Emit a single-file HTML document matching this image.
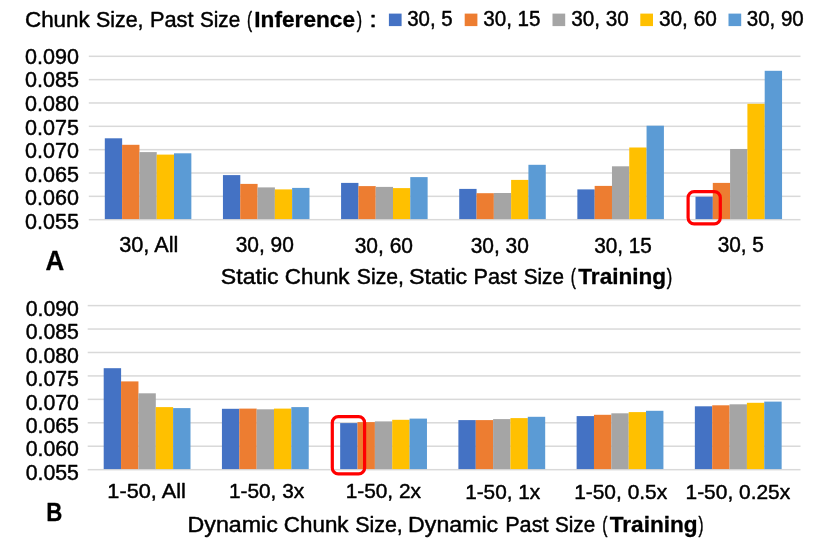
<!DOCTYPE html>
<html lang="en"><head><meta charset="utf-8"><title>Chunk Size, Past Size</title>
<style>html,body{margin:0;padding:0;background:#fff;}body{width:830px;height:545px;overflow:hidden;}svg{display:block;}text{font-family:"Liberation Sans",sans-serif;fill:#000;stroke:#000;stroke-width:0.45px;stroke-linejoin:round;}.b{font-weight:bold;stroke-width:0.3px;}</style></head><body>
<svg width="830" height="545" viewBox="0 0 830 545">
<rect x="0" y="0" width="830" height="545" fill="#fff"/>
<rect x="88.80" y="55.55" width="711.70" height="1.5" fill="#D9D9D9"/>
<rect x="88.80" y="78.89" width="711.70" height="1.5" fill="#D9D9D9"/>
<rect x="88.80" y="102.23" width="711.70" height="1.5" fill="#D9D9D9"/>
<rect x="88.80" y="125.57" width="711.70" height="1.5" fill="#D9D9D9"/>
<rect x="88.80" y="148.91" width="711.70" height="1.5" fill="#D9D9D9"/>
<rect x="88.80" y="172.25" width="711.70" height="1.5" fill="#D9D9D9"/>
<rect x="88.80" y="195.59" width="711.70" height="1.5" fill="#D9D9D9"/>
<rect x="88.80" y="218.93" width="711.70" height="1.5" fill="#D9D9D9"/>
<rect x="104.80" y="138.30" width="17.35" height="80.78" fill="#4472C4"/>
<rect x="122.10" y="144.80" width="17.35" height="74.28" fill="#ED7D31"/>
<rect x="139.40" y="152.10" width="17.35" height="66.98" fill="#A5A5A5"/>
<rect x="156.70" y="154.60" width="17.35" height="64.48" fill="#FFC000"/>
<rect x="174.00" y="153.30" width="17.35" height="65.78" fill="#5B9BD5"/>
<rect x="222.94" y="175.10" width="17.35" height="43.98" fill="#4472C4"/>
<rect x="240.24" y="183.90" width="17.35" height="35.18" fill="#ED7D31"/>
<rect x="257.54" y="187.40" width="17.35" height="31.68" fill="#A5A5A5"/>
<rect x="274.84" y="189.40" width="17.35" height="29.68" fill="#FFC000"/>
<rect x="292.14" y="187.90" width="17.35" height="31.18" fill="#5B9BD5"/>
<rect x="341.08" y="182.90" width="17.35" height="36.18" fill="#4472C4"/>
<rect x="358.38" y="186.10" width="17.35" height="32.98" fill="#ED7D31"/>
<rect x="375.68" y="186.90" width="17.35" height="32.18" fill="#A5A5A5"/>
<rect x="392.98" y="188.10" width="17.35" height="30.98" fill="#FFC000"/>
<rect x="410.28" y="177.10" width="17.35" height="41.98" fill="#5B9BD5"/>
<rect x="459.22" y="188.90" width="17.35" height="30.18" fill="#4472C4"/>
<rect x="476.52" y="193.20" width="17.35" height="25.88" fill="#ED7D31"/>
<rect x="493.82" y="193.00" width="17.35" height="26.08" fill="#A5A5A5"/>
<rect x="511.12" y="179.90" width="17.35" height="39.18" fill="#FFC000"/>
<rect x="528.42" y="164.80" width="17.35" height="54.28" fill="#5B9BD5"/>
<rect x="577.36" y="189.40" width="17.35" height="29.68" fill="#4472C4"/>
<rect x="594.66" y="185.90" width="17.35" height="33.18" fill="#ED7D31"/>
<rect x="611.96" y="166.30" width="17.35" height="52.78" fill="#A5A5A5"/>
<rect x="629.26" y="147.50" width="17.35" height="71.58" fill="#FFC000"/>
<rect x="646.56" y="125.70" width="17.35" height="93.38" fill="#5B9BD5"/>
<rect x="695.50" y="196.70" width="17.35" height="22.38" fill="#4472C4"/>
<rect x="712.80" y="182.90" width="17.35" height="36.18" fill="#ED7D31"/>
<rect x="730.10" y="149.00" width="17.35" height="70.08" fill="#A5A5A5"/>
<rect x="747.40" y="103.80" width="17.35" height="115.28" fill="#FFC000"/>
<rect x="764.70" y="70.80" width="17.35" height="148.28" fill="#5B9BD5"/>
<text x="25.09" y="63.95" font-size="21.5" textLength="53.84" lengthAdjust="spacingAndGlyphs">0.090</text>
<text x="25.08" y="87.49" font-size="21.5" textLength="53.90" lengthAdjust="spacingAndGlyphs">0.085</text>
<text x="25.09" y="111.03" font-size="21.5" textLength="53.84" lengthAdjust="spacingAndGlyphs">0.080</text>
<text x="25.08" y="134.57" font-size="21.5" textLength="53.90" lengthAdjust="spacingAndGlyphs">0.075</text>
<text x="25.09" y="158.11" font-size="21.5" textLength="53.84" lengthAdjust="spacingAndGlyphs">0.070</text>
<text x="25.08" y="181.65" font-size="21.5" textLength="53.90" lengthAdjust="spacingAndGlyphs">0.065</text>
<text x="25.09" y="205.19" font-size="21.5" textLength="53.84" lengthAdjust="spacingAndGlyphs">0.060</text>
<text x="25.08" y="228.73" font-size="21.5" textLength="53.90" lengthAdjust="spacingAndGlyphs">0.055</text>
<rect x="87.70" y="304.85" width="712.80" height="1.5" fill="#D9D9D9"/>
<rect x="87.70" y="328.29" width="712.80" height="1.5" fill="#D9D9D9"/>
<rect x="87.70" y="351.73" width="712.80" height="1.5" fill="#D9D9D9"/>
<rect x="87.70" y="375.17" width="712.80" height="1.5" fill="#D9D9D9"/>
<rect x="87.70" y="398.61" width="712.80" height="1.5" fill="#D9D9D9"/>
<rect x="87.70" y="422.05" width="712.80" height="1.5" fill="#D9D9D9"/>
<rect x="87.70" y="445.49" width="712.80" height="1.5" fill="#D9D9D9"/>
<rect x="87.70" y="468.93" width="712.80" height="1.5" fill="#D9D9D9"/>
<rect x="103.70" y="368.20" width="17.40" height="100.88" fill="#4472C4"/>
<rect x="121.05" y="381.40" width="17.40" height="87.68" fill="#ED7D31"/>
<rect x="138.40" y="393.30" width="17.40" height="75.78" fill="#A5A5A5"/>
<rect x="155.75" y="407.10" width="17.40" height="61.98" fill="#FFC000"/>
<rect x="173.10" y="408.10" width="17.40" height="60.98" fill="#5B9BD5"/>
<rect x="221.93" y="408.80" width="17.40" height="60.28" fill="#4472C4"/>
<rect x="239.28" y="408.60" width="17.40" height="60.48" fill="#ED7D31"/>
<rect x="256.63" y="409.30" width="17.40" height="59.78" fill="#A5A5A5"/>
<rect x="273.98" y="408.60" width="17.40" height="60.48" fill="#FFC000"/>
<rect x="291.33" y="407.10" width="17.40" height="61.98" fill="#5B9BD5"/>
<rect x="340.16" y="423.10" width="17.40" height="45.98" fill="#4472C4"/>
<rect x="357.51" y="422.10" width="17.40" height="46.98" fill="#ED7D31"/>
<rect x="374.86" y="421.40" width="17.40" height="47.68" fill="#A5A5A5"/>
<rect x="392.21" y="419.80" width="17.40" height="49.28" fill="#FFC000"/>
<rect x="409.56" y="418.60" width="17.40" height="50.48" fill="#5B9BD5"/>
<rect x="458.39" y="420.10" width="17.40" height="48.98" fill="#4472C4"/>
<rect x="475.74" y="420.10" width="17.40" height="48.98" fill="#ED7D31"/>
<rect x="493.09" y="419.10" width="17.40" height="49.98" fill="#A5A5A5"/>
<rect x="510.44" y="418.10" width="17.40" height="50.98" fill="#FFC000"/>
<rect x="527.79" y="416.80" width="17.40" height="52.28" fill="#5B9BD5"/>
<rect x="576.62" y="416.10" width="17.40" height="52.98" fill="#4472C4"/>
<rect x="593.97" y="414.80" width="17.40" height="54.28" fill="#ED7D31"/>
<rect x="611.32" y="413.30" width="17.40" height="55.78" fill="#A5A5A5"/>
<rect x="628.67" y="412.10" width="17.40" height="56.98" fill="#FFC000"/>
<rect x="646.02" y="410.80" width="17.40" height="58.28" fill="#5B9BD5"/>
<rect x="694.85" y="406.30" width="17.40" height="62.78" fill="#4472C4"/>
<rect x="712.20" y="405.30" width="17.40" height="63.78" fill="#ED7D31"/>
<rect x="729.55" y="404.30" width="17.40" height="64.78" fill="#A5A5A5"/>
<rect x="746.90" y="402.80" width="17.40" height="66.28" fill="#FFC000"/>
<rect x="764.25" y="401.60" width="17.40" height="67.48" fill="#5B9BD5"/>
<text x="25.70" y="315.65" font-size="21.5" textLength="53.22" lengthAdjust="spacingAndGlyphs">0.090</text>
<text x="25.69" y="339.12" font-size="21.5" textLength="53.28" lengthAdjust="spacingAndGlyphs">0.085</text>
<text x="25.70" y="362.59" font-size="21.5" textLength="53.22" lengthAdjust="spacingAndGlyphs">0.080</text>
<text x="25.69" y="386.06" font-size="21.5" textLength="53.28" lengthAdjust="spacingAndGlyphs">0.075</text>
<text x="25.70" y="409.53" font-size="21.5" textLength="53.22" lengthAdjust="spacingAndGlyphs">0.070</text>
<text x="25.69" y="433.00" font-size="21.5" textLength="53.28" lengthAdjust="spacingAndGlyphs">0.065</text>
<text x="25.70" y="456.47" font-size="21.5" textLength="53.22" lengthAdjust="spacingAndGlyphs">0.060</text>
<text x="25.69" y="479.94" font-size="21.5" textLength="53.28" lengthAdjust="spacingAndGlyphs">0.055</text>
<rect x="688.1" y="191.6" width="32.2" height="32.2" rx="6" ry="6" fill="none" stroke="#FF0000" stroke-width="3.2"/>
<rect x="332.3" y="416.7" width="32.3" height="57.2" rx="6" ry="6" fill="none" stroke="#FF0000" stroke-width="3.2"/>
<text x="24.98" y="26.60" font-size="21.5" textLength="64.76" lengthAdjust="spacingAndGlyphs">Chunk</text>
<text x="95.94" y="26.60" font-size="21.5" textLength="47.56" lengthAdjust="spacingAndGlyphs">Size,</text>
<text x="149.94" y="26.60" font-size="21.5" textLength="43.59" lengthAdjust="spacingAndGlyphs">Past</text>
<text x="199.97" y="26.60" font-size="21.5" textLength="40.22" lengthAdjust="spacingAndGlyphs">Size</text>
<text x="246.88" y="26.60" font-size="21.5" textLength="5.09" lengthAdjust="spacingAndGlyphs">(</text>
<text x="254.33" y="26.60" font-size="21.5" class="b" textLength="100.69" lengthAdjust="spacingAndGlyphs">Inference</text>
<text x="356.83" y="26.60" font-size="21.5" textLength="5.34" lengthAdjust="spacingAndGlyphs">)</text>
<text x="369.21" y="26.60" font-size="21.5" textLength="7.67" lengthAdjust="spacingAndGlyphs">:</text>
<rect x="388.90" y="13.6" width="12.7" height="12.5" fill="#4472C4"/>
<text x="407.15" y="26.20" font-size="21.2" textLength="45.49" lengthAdjust="spacingAndGlyphs">30, 5</text>
<rect x="464.70" y="13.6" width="12.7" height="12.5" fill="#ED7D31"/>
<text x="483.24" y="26.20" font-size="21.2" textLength="57.30" lengthAdjust="spacingAndGlyphs">30, 15</text>
<rect x="552.50" y="13.6" width="12.7" height="12.5" fill="#A5A5A5"/>
<text x="571.24" y="26.20" font-size="21.2" textLength="57.55" lengthAdjust="spacingAndGlyphs">30, 30</text>
<rect x="640.30" y="13.6" width="12.7" height="12.5" fill="#FFC000"/>
<text x="658.93" y="26.20" font-size="21.2" textLength="57.86" lengthAdjust="spacingAndGlyphs">30, 60</text>
<rect x="728.50" y="13.6" width="12.7" height="12.5" fill="#5B9BD5"/>
<text x="746.75" y="26.20" font-size="21.2" textLength="57.04" lengthAdjust="spacingAndGlyphs">30, 90</text>
<text x="119.20" y="251.65" font-size="21.5" textLength="59.13" lengthAdjust="spacingAndGlyphs">30, All</text>
<text x="235.73" y="251.65" font-size="21.5" textLength="58.17" lengthAdjust="spacingAndGlyphs">30, 90</text>
<text x="354.73" y="253.15" font-size="21.5" textLength="58.27" lengthAdjust="spacingAndGlyphs">30, 60</text>
<text x="470.73" y="253.40" font-size="21.5" textLength="58.17" lengthAdjust="spacingAndGlyphs">30, 30</text>
<text x="594.24" y="253.25" font-size="21.5" textLength="57.61" lengthAdjust="spacingAndGlyphs">30, 15</text>
<text x="717.63" y="251.65" font-size="21.5" textLength="46.32" lengthAdjust="spacingAndGlyphs">30, 5</text>
<text x="107.37" y="497.70" font-size="21" textLength="78.46" lengthAdjust="spacingAndGlyphs">1-50, All</text>
<text x="228.94" y="497.70" font-size="21" textLength="75.27" lengthAdjust="spacingAndGlyphs">1-50, 3x</text>
<text x="345.64" y="497.60" font-size="21" textLength="75.37" lengthAdjust="spacingAndGlyphs">1-50, 2x</text>
<text x="465.15" y="498.50" font-size="21" textLength="75.06" lengthAdjust="spacingAndGlyphs">1-50, 1x</text>
<text x="574.13" y="498.50" font-size="21" textLength="93.08" lengthAdjust="spacingAndGlyphs">1-50, 0.5x</text>
<text x="685.53" y="498.50" font-size="21" textLength="104.68" lengthAdjust="spacingAndGlyphs">1-50, 0.25x</text>
<text x="45.40" y="270.10" font-size="27.3" class="b" textLength="18.73" lengthAdjust="spacingAndGlyphs">A</text>
<text x="46.16" y="521.00" font-size="26.6" class="b" textLength="16.10" lengthAdjust="spacingAndGlyphs">B</text>
<text x="220.86" y="284.00" font-size="21.5" textLength="57.71" lengthAdjust="spacingAndGlyphs">Static</text>
<text x="284.88" y="284.00" font-size="21.5" textLength="64.66" lengthAdjust="spacingAndGlyphs">Chunk</text>
<text x="356.85" y="284.00" font-size="21.5" textLength="47.14" lengthAdjust="spacingAndGlyphs">Size,</text>
<text x="409.06" y="284.00" font-size="21.5" textLength="58.12" lengthAdjust="spacingAndGlyphs">Static</text>
<text x="473.45" y="284.00" font-size="21.5" textLength="43.38" lengthAdjust="spacingAndGlyphs">Past</text>
<text x="523.67" y="284.00" font-size="21.5" textLength="40.22" lengthAdjust="spacingAndGlyphs">Size</text>
<text x="570.78" y="284.00" font-size="21.5" textLength="5.09" lengthAdjust="spacingAndGlyphs">(</text>
<text x="578.30" y="284.00" font-size="21.5" class="b" textLength="87.87" lengthAdjust="spacingAndGlyphs">Training</text>
<text x="666.83" y="284.00" font-size="21.5" textLength="5.47" lengthAdjust="spacingAndGlyphs">)</text>
<text x="187.62" y="532.30" font-size="21.5" textLength="90.25" lengthAdjust="spacingAndGlyphs">Dynamic</text>
<text x="283.88" y="532.30" font-size="21.5" textLength="64.66" lengthAdjust="spacingAndGlyphs">Chunk</text>
<text x="355.14" y="532.30" font-size="21.5" textLength="47.67" lengthAdjust="spacingAndGlyphs">Size,</text>
<text x="408.13" y="532.30" font-size="21.5" textLength="90.04" lengthAdjust="spacingAndGlyphs">Dynamic</text>
<text x="505.15" y="532.30" font-size="21.5" textLength="43.38" lengthAdjust="spacingAndGlyphs">Past</text>
<text x="554.97" y="532.30" font-size="21.5" textLength="40.22" lengthAdjust="spacingAndGlyphs">Size</text>
<text x="602.25" y="532.30" font-size="21.5" textLength="5.22" lengthAdjust="spacingAndGlyphs">(</text>
<text x="609.70" y="532.30" font-size="21.5" class="b" textLength="87.97" lengthAdjust="spacingAndGlyphs">Training</text>
<text x="698.44" y="532.30" font-size="21.5" textLength="4.96" lengthAdjust="spacingAndGlyphs">)</text>
</svg></body></html>
